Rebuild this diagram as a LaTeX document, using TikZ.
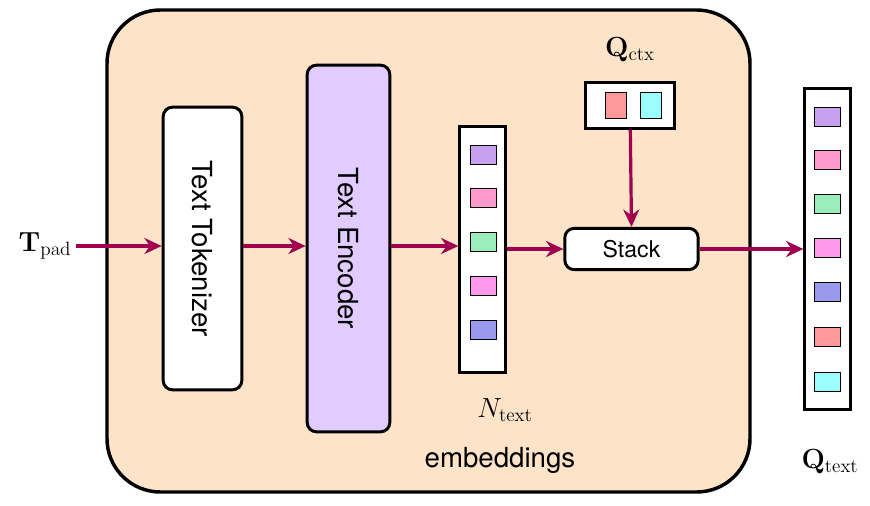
\documentclass[tikz,border=0pt]{standalone}
\usepackage{amsmath,amssymb,graphicx}
\usepackage[no-math]{fontspec}
\newfontfamily\labelfont{TeX Gyre Heros}
\usetikzlibrary{arrows.meta}
\definecolor{peach}{HTML}{FDE3C8}
\definecolor{lavender}{HTML}{E2CCFF}
\definecolor{flow}{HTML}{A0004F}
\definecolor{cpurple}{HTML}{C8A0F0}
\definecolor{cpink}{HTML}{FF99CC}
\definecolor{cgreen}{HTML}{99EEBB}
\definecolor{cmagenta}{HTML}{FF99EE}
\definecolor{cblue}{HTML}{9999EE}
\definecolor{csalmon}{HTML}{FF9999}
\definecolor{ccyan}{HTML}{99FFFF}
\tikzstyle{block} = [draw, line width=2.2pt, rounded corners=7pt, font=\labelfont\huge]
\tikzstyle{column} = [draw, line width=2.2pt, fill=white]
\tikzstyle{cell} = [draw, line width=0.7pt, minimum width=20pt, minimum height=14pt, inner sep=0pt]
\tikzstyle{flowarrow} = [flow, line width=2.4pt, -{Stealth[length=13pt,width=12pt]}]

\begin{document}
\begin{tikzpicture}[x=0.75pt, y=-0.75pt]
  \useasboundingbox (0,0) rectangle (870,506);
  \draw [fill=peach, line width=2.6pt, rounded corners=40pt] (107,10) rectangle (750,492);
  \node (tpad) at (45,246) {\huge $\mathbf{T}_{\mathrm{pad}}$};
  \node (tok) at (202.5,248.5) [block, fill=white, minimum width=59pt, minimum height=212pt] {\rotatebox{-90}{Text Tokenizer}};
  \node (enc) at (348.5,248.5) [block, fill=lavender, minimum width=62pt, minimum height=275pt] {\rotatebox{-90}{Text Encoder}};
  \node (emb) at (482.5,249.5) [column, minimum width=34pt, minimum height=184pt] {};
  \node (e1) at (483.5,155) [cell, fill=cpurple] {};
  \node (e2) at (483.5,198) [cell, fill=cpink] {};
  \node (e3) at (483.5,242) [cell, fill=cgreen] {};
  \node (e4) at (483.5,286) [cell, fill=cmagenta] {};
  \node (e5) at (483.5,330) [cell, fill=cblue] {};
  \node (ntext) at (505,410) {\huge $N_{\mathrm{text}}$};
  \node (embl) at (500,460) [font=\labelfont\huge] {embeddings};
  \node (ctx) at (630,105.5) [column, minimum width=67pt, minimum height=34pt] {};
  \node (c1) at (616,105.5) [cell, fill=csalmon, minimum width=16pt, minimum height=20pt] {};
  \node (c2) at (651,105.5) [cell, fill=ccyan, minimum width=16pt, minimum height=20pt] {};
  \node (qctx) at (630,50) {\huge $\mathbf{Q}_{\mathrm{ctx}}$};
  \node (stack) at (631.5,249) [block, fill=white, minimum width=100pt, minimum height=31pt, font=\labelfont\LARGE] {Stack};
  \node (out) at (827.5,249) [column, minimum width=34pt, minimum height=241pt] {};
  \node (o1) at (827.5,117) [cell, fill=cpurple] {};
  \node (o2) at (827.5,160) [cell, fill=cpink] {};
  \node (o3) at (827.5,204) [cell, fill=cgreen] {};
  \node (o4) at (827.5,248) [cell, fill=cmagenta] {};
  \node (o5) at (827.5,292) [cell, fill=cblue] {};
  \node (o6) at (827.5,337) [cell, fill=csalmon] {};
  \node (o7) at (827.5,382) [cell, fill=ccyan] {};
  \node (qtext) at (830,462) {\huge $\mathbf{Q}_{\mathrm{text}}$};
  \draw [flowarrow] (tpad) -- (tok.west |- tpad);
  \draw [flowarrow] (tok.east |- tpad) -- (enc.west |- tpad);
  \draw [flowarrow] (enc.east |- tpad) -- (emb.west |- tpad);
  \draw [flowarrow] (emb.east |- stack) -- (stack.west);
  \draw [flowarrow] (ctx) -- (stack.north);
  \draw [flowarrow] (stack.east) -- (out.west |- stack);
\end{tikzpicture}
\end{document}
